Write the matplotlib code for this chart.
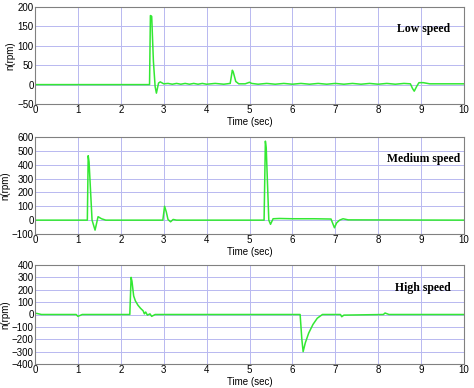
import numpy as np
import matplotlib
matplotlib.use("Agg")
import matplotlib.pyplot as plt

# low speed response (time in s, speed error in rpm)
t_low = [0, 2.67, 2.69, 2.72, 2.76, 2.80, 2.83, 2.88, 2.92, 3.0, 3.1, 3.2, 3.3, 3.4,
         3.5, 3.6, 3.7, 3.8, 3.9, 4.0, 4.2, 4.4, 4.55, 4.60, 4.62, 4.68, 4.75, 4.9,
         5.0, 5.05, 5.2, 5.4, 5.6, 5.8, 6.0, 6.2, 6.4, 6.6, 6.8, 7.0, 7.2, 7.4, 7.6,
         7.8, 8.0, 8.2, 8.4, 8.6, 8.75, 8.80, 8.84, 8.9, 8.95, 9.05, 9.2, 9.5, 10]
n_low = [0, 0, 178, 176, 60, -5, -22, 4, 7, 2, 3, 1, 3, 1,
         3, 1, 3, 1, 3, 1, 3, 1, 3, 37, 33, 8, 2, 2,
         6, 3, 1, 3, 1, 3, 1, 3, 1, 3, 1, 3, 1, 3, 1,
         3, 1, 3, 1, 3, 2, -10, -17, -4, 5, 5, 2, 2, 2]

# medium speed response
t_med = [0, 1.22, 1.24, 1.26, 1.33, 1.40, 1.47, 1.55, 1.65, 2.98, 3.02, 3.06,
         3.10, 3.16, 3.22, 3.3, 5.34, 5.37, 5.39, 5.45, 5.49, 5.55, 5.7, 6.0,
         6.5, 6.9, 6.98, 7.03, 7.1, 7.18, 7.3, 10]
n_med = [0, 0, 465, 420, 0, -72, 25, 10, 0, 0, 100, 60,
         5, -12, 5, 0, 0, 570, 520, 0, -30, 10, 12, 10,
         10, 8, -55, -20, 0, 10, 2, 0]

# high speed response
t_high = [0, 0.05, 0.15, 0.96, 1.0, 1.1, 2.21, 2.24, 2.26, 2.30, 2.34, 2.40,
          2.46, 2.52, 2.55, 2.58, 2.62, 2.68, 2.72, 2.8, 6.18, 6.22, 6.25,
          6.30, 6.38, 6.48, 6.58, 6.7, 7.12, 7.15, 7.2, 8.12, 8.16, 8.25, 10]
n_high = [10, 8, 0, 0, -15, 0, 0, 300, 270, 150, 110, 75,
          50, 30, 5, 20, -5, 5, -15, 0, 0, -200, -300,
          -230, -150, -80, -30, 0, 0, -18, -5, 0, 12, 0, 0]

panels = [
    (t_low, n_low, "Low speed", (-50, 200), np.arange(-50, 201, 50)),
    (t_med, n_med, "Medium speed", (-100, 600), np.arange(-100, 601, 100)),
    (t_high, n_high, "High speed", (-400, 400), np.arange(-400, 401, 100)),
]

fig = plt.figure(figsize=(4.74, 3.88), dpi=100)
plt.rcParams['font.family'] = ['Liberation Sans', 'DejaVu Sans']

tops = [7, 137, 265]
bottoms = [104, 234, 364]
W, H = 474, 388
for (t, n, title, ylim, yticks), top, bot in zip(panels, tops, bottoms):
    ax = fig.add_axes([35 / W, 1 - bot / H, (464 - 35) / W, (bot - top) / H])
    ax.plot(t, n, color='#33e833', linewidth=1.1)
    ax.set_xlim(0, 10)
    ax.set_ylim(*ylim)
    ax.set_xticks(range(0, 11))
    ax.set_yticks(yticks)
    ax.grid(True, color='#b8b8f0', linewidth=0.7)
    ax.tick_params(labelsize=7, length=0, pad=1)
    for s in ax.spines.values():
        s.set_color('#808080')
        s.set_linewidth(0.8)
    ax.set_xlabel("Time (sec)", fontsize=7, labelpad=1)
    ax.set_ylabel("n(rpm)", fontsize=7, labelpad=1)
    ax.text(0.905, 0.77, title, transform=ax.transAxes, ha='center', va='center',
            fontsize=8.5, fontweight='bold', family='Liberation Serif')

fig.savefig("out.png", dpi=100)
